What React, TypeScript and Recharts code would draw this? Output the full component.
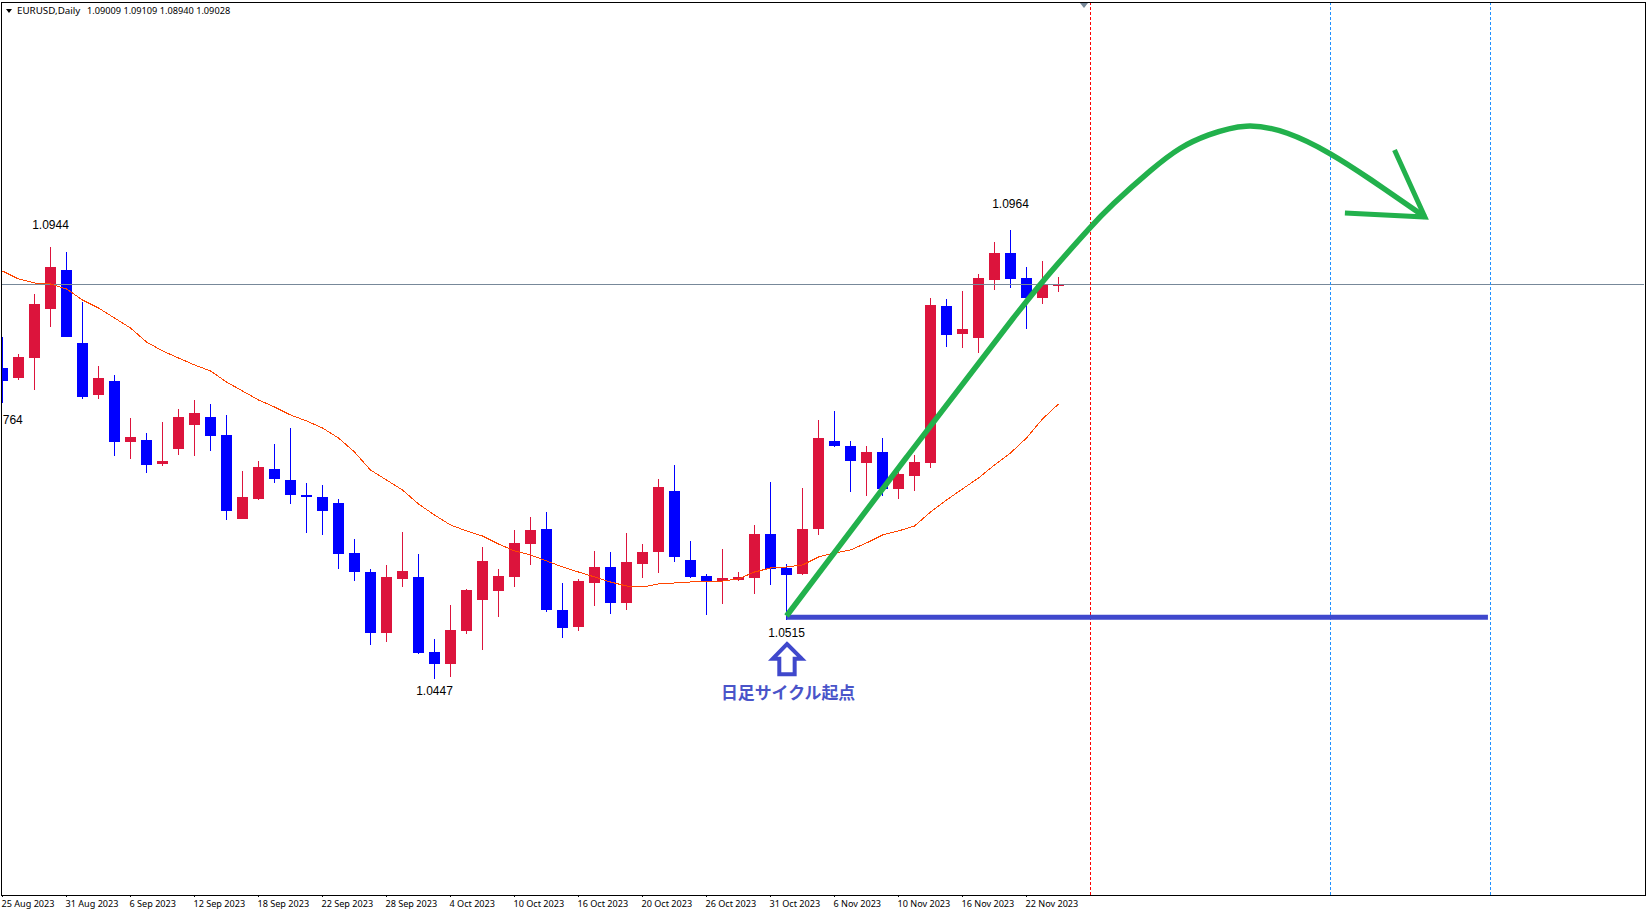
import React from 'react';
import { ComposedChart, Bar, Line, XAxis, YAxis, ReferenceLine, ReferenceDot } from 'recharts';

// EURUSD daily, one entry per candle
const opens = [
  1.08053, 1.07938, 1.08168, 1.08732, 1.09180, 1.08341, 1.07743, 1.07904, 1.07202, 1.07225,
  1.06949, 1.07122, 1.07398, 1.07490, 1.07283, 1.06317, 1.06547, 1.06892, 1.06765, 1.06593,
  1.06570, 1.06501, 1.05926, 1.05707, 1.05005, 1.05627, 1.05650, 1.04787, 1.04649, 1.05029,
  1.05385, 1.05489, 1.05650, 1.06029, 1.06202, 1.05270, 1.05075, 1.05581, 1.05765, 1.05351,
  1.05799, 1.05937, 1.06639, 1.05845, 1.05661, 1.05603, 1.05615, 1.05638, 1.06144, 1.05753,
  1.05684, 1.06202, 1.07214, 1.07156, 1.06961, 1.07087, 1.06662, 1.06811, 1.06961, 1.08766,
  1.08444, 1.08398, 1.09065, 1.09376, 1.09088, 1.08858, 1.09000,
];
const highs = [
  1.08410, 1.08214, 1.08904, 1.09445, 1.09387, 1.08812, 1.08076, 1.07973, 1.07478, 1.07306,
  1.07432, 1.07581, 1.07685, 1.07639, 1.07513, 1.06869, 1.06984, 1.07179, 1.07363, 1.06731,
  1.06708, 1.06547, 1.06087, 1.05742, 1.05788, 1.06167, 1.05914, 1.04937, 1.05327, 1.05512,
  1.05995, 1.05742, 1.06190, 1.06340, 1.06397, 1.05581, 1.05627, 1.05949, 1.05937, 1.06156,
  1.06029, 1.06777, 1.06938, 1.06064, 1.05684, 1.05972, 1.05707, 1.06248, 1.06742, 1.05799,
  1.06673, 1.07455, 1.07559, 1.07214, 1.07156, 1.07248, 1.06880, 1.07053, 1.08858, 1.08847,
  1.08939, 1.09134, 1.09502, 1.09640, 1.09215, 1.09284, 1.09100,
];
const lows = [
  1.07651, 1.07915, 1.07800, 1.08525, 1.08410, 1.07697, 1.07697, 1.07041, 1.07007, 1.06846,
  1.06927, 1.07053, 1.07041, 1.07099, 1.06305, 1.06317, 1.06535, 1.06731, 1.06489, 1.06156,
  1.06133, 1.05742, 1.05603, 1.04868, 1.04902, 1.05535, 1.04764, 1.04477, 1.04500, 1.04994,
  1.04810, 1.05190, 1.05535, 1.05788, 1.05247, 1.04948, 1.05029, 1.05316, 1.05224, 1.05270,
  1.05638, 1.05696, 1.05822, 1.05638, 1.05213, 1.05339, 1.05603, 1.05454, 1.05557, 1.05155,
  1.05673, 1.06133, 1.07145, 1.06627, 1.06581, 1.06581, 1.06547, 1.06639, 1.06903, 1.08295,
  1.08283, 1.08226, 1.08950, 1.08973, 1.08501, 1.08789, 1.08927,
];
const closes = [
  1.07904, 1.08180, 1.08789, 1.09215, 1.08410, 1.07720, 1.07938, 1.07202, 1.07260, 1.06938,
  1.06984, 1.07490, 1.07535, 1.07271, 1.06409, 1.06570, 1.06915, 1.06777, 1.06593, 1.06570,
  1.06409, 1.05914, 1.05707, 1.05005, 1.05650, 1.05719, 1.04776, 1.04649, 1.05040, 1.05500,
  1.05834, 1.05661, 1.06041, 1.06190, 1.05270, 1.05063, 1.05603, 1.05765, 1.05351, 1.05822,
  1.05937, 1.06685, 1.05880, 1.05650, 1.05603, 1.05638, 1.05650, 1.06144, 1.05742, 1.05673,
  1.06202, 1.07248, 1.07156, 1.06984, 1.07087, 1.06662, 1.06834, 1.06972, 1.08778, 1.08433,
  1.08501, 1.09088, 1.09376, 1.09077, 1.08858, 1.09007, 1.09019,
];
const ma = [
  1.09169, 1.09077, 1.09031, 1.09019, 1.08962, 1.08835, 1.08743, 1.08628, 1.08513, 1.08352,
  1.08249, 1.08168, 1.08088, 1.08019, 1.07892, 1.07789, 1.07685, 1.07605, 1.07513, 1.07444,
  1.07363, 1.07248, 1.07087, 1.06880, 1.06765, 1.06650, 1.06489, 1.06363, 1.06248, 1.06179,
  1.06121, 1.06029, 1.05949, 1.05903, 1.05834, 1.05765, 1.05707, 1.05650, 1.05592, 1.05546,
  1.05535, 1.05569, 1.05581, 1.05592, 1.05603, 1.05603, 1.05627, 1.05707, 1.05753, 1.05765,
  1.05788, 1.05880, 1.05926, 1.05960, 1.06041, 1.06133, 1.06179, 1.06236, 1.06397, 1.06535,
  1.06662, 1.06788, 1.06938, 1.07076, 1.07248, 1.07467, 1.07639,
];

const dateLabels = [
  '25 Aug 2023', '31 Aug 2023', '6 Sep 2023', '12 Sep 2023', '18 Sep 2023', '22 Sep 2023',
  '28 Sep 2023', '4 Oct 2023', '10 Oct 2023', '16 Oct 2023', '20 Oct 2023', '26 Oct 2023',
  '31 Oct 2023', '6 Nov 2023', '10 Nov 2023', '16 Nov 2023', '22 Nov 2023',
];
const dateTicks = [0, 4, 8, 12, 16, 20, 24, 28, 32, 36, 40, 44, 48, 52, 56, 60, 64];

const bidPrice = 1.09019;
const periodSeps = [
  { i: 68, color: '#FF0000' },
  { i: 83, color: '#1E90FF' },
  { i: 93, color: '#1E90FF' },
];
const extremes = [
  { i: 3, p: 1.09697, text: '1.0944' },
  { i: 0.64, p: 1.07455, text: '764' },
  { i: 27, p: 1.04338, text: '1.0447' },
  { i: 49, p: 1.05002, text: '1.0515' },
  { i: 63, p: 1.09935, text: '1.0964' },
];

// hand drawn markup on the chart
const forecastCurve = [
  { i: 49, p: 1.05201 },
  { i: 56.5, p: 1.0703 },
  { i: 64.1, p: 1.08858 },
  { i: 65.89, p: 1.09238 },
  { i: 68, p: 1.09675 },
  { i: 69.2, p: 1.09908 },
  { i: 71.9, p: 1.10353 },
  { i: 73.6, p: 1.10594 },
  { i: 75.26, p: 1.10733 },
  { i: 77.7, p: 1.10873 },
  { i: 80.29, p: 1.10779 },
  { i: 83, p: 1.10526 },
  { i: 85.3, p: 1.1025 },
  { i: 88.9, p: 1.0979 },
];
const forecastHead = [
  { i: 87, p: 1.1056 },
  { i: 88.9, p: 1.0979 },
  { i: 83.9, p: 1.09836 },
];
const cycleBase = [
  { i: 49, p: 1.05186 },
  { i: 92.84, p: 1.05186 },
];
const startArrow = [
  { i: 49.03, p: 1.04879 },
  { i: 49.95, p: 1.0471 },
  { i: 49.51, p: 1.0471 },
  { i: 49.51, p: 1.04531 },
  { i: 48.55, p: 1.04531 },
  { i: 48.55, p: 1.0471 },
  { i: 48.14, p: 1.0471 },
  { i: 49.03, p: 1.04879 },
  { i: 49.95, p: 1.0471 },
];
const startNote = { i: 49.1, p: 1.04331, text: '日足サイクル起点' };

const rows = opens.map((o, i) => ({
  i, o, h: highs[i], l: lows[i], c: closes[i], ma: ma[i], range: [lows[i], highs[i]],
}));

const UP = '#DC143C';
const DOWN = '#0000FF';
const MARKUP_BLUE = '#3F48CC';
const MARKUP_GREEN = '#22B14C';
const SMALL_FONT = '"Noto Sans", sans-serif';
const BODY_WIDTH = 11;

function Candle(props: any) {
  const { x, y, width, height, payload } = props;
  const { o, h, l, c } = payload;
  const toY = (p: number) => y + ((h - p) / (h - l)) * height;
  const color = c >= o ? UP : DOWN;
  const top = toY(Math.max(o, c));
  const bottom = toY(Math.min(o, c));
  // width from the bar is useless here, markup lines shrink the band on the number axis
  const mid = x + width / 2;
  return (
    <g shapeRendering="crispEdges">
      <rect x={mid - 0.5} y={y} width={1} height={height} fill={color} />
      <rect x={mid - BODY_WIDTH / 2} y={top} width={BODY_WIDTH} height={Math.max(bottom - top, 1)} fill={color} />
    </g>
  );
}

function DateTick({ x, y, payload }: any) {
  const label = dateLabels[dateTicks.indexOf(payload.value)];
  return (
    <text x={x - 1} y={y + 8} fontFamily={SMALL_FONT} fontSize={9.1} fill="#000">
      {label}
    </text>
  );
}

const priceLabel = (text: string) => ({ cx, cy }: any) => (
  <text x={cx} y={cy} textAnchor="middle" dominantBaseline="central" fontFamily='"Liberation Sans", Arial' fontSize={12} fill="#000">
    {text}
  </text>
);

export default function App() {
  return (
    <div style={{ position: 'absolute', left: 0, top: 0, width: 1646, height: 912, background: '#fff', overflow: 'hidden' }}>
      <ComposedChart width={1646} height={912} data={rows} margin={{ top: 2, right: 2, bottom: 0, left: 2 }}>
        <XAxis
          dataKey="i"
          type="number"
          domain={[-0.03125, 102.594]}
          allowDataOverflow
          ticks={dateTicks}
          tick={DateTick}
          tickLine={{ stroke: '#000' }}
          tickSize={2}
          axisLine={false}
          height={17}
          interval={0}
        />
        <YAxis hide domain={[1.019925, 1.12262]} allowDataOverflow />
        <ReferenceLine y={bidPrice} stroke="#778899" strokeWidth={1} shapeRendering="crispEdges" />
        <Bar dataKey="range" barSize={11} shape={Candle} isAnimationActive={false} />
        <Line dataKey="ma" stroke="#FF4500" strokeWidth={1} dot={false} activeDot={false} type="linear" shapeRendering="crispEdges" isAnimationActive={false} />
        {periodSeps.map(s => (
          <ReferenceLine key={s.i} x={s.i} stroke={s.color} strokeWidth={1} strokeDasharray="3 2" shapeRendering="crispEdges" />
        ))}
        {extremes.map(e => (
          <ReferenceDot key={e.text} x={e.i} y={e.p} r={0} shape={priceLabel(e.text)} />
        ))}
        <Line data={cycleBase} dataKey="p" stroke={MARKUP_BLUE} strokeWidth={5} dot={false} activeDot={false} type="linear" isAnimationActive={false} />
        <Line data={forecastCurve} dataKey="p" stroke={MARKUP_GREEN} strokeWidth={5.5} dot={false} activeDot={false} type="basis" isAnimationActive={false} />
        <Line data={forecastHead} dataKey="p" stroke={MARKUP_GREEN} strokeWidth={5} dot={false} activeDot={false} type="linear" isAnimationActive={false} />
        <Line data={startArrow} dataKey="p" stroke={MARKUP_BLUE} strokeWidth={4} strokeLinejoin="miter" dot={false} activeDot={false} type="linear" isAnimationActive={false} />
        <ReferenceDot
          x={startNote.i}
          y={startNote.p}
          r={0}
          shape={({ cx, cy }: any) => (
            <text x={cx} y={cy} textAnchor="middle" dominantBaseline="central" fontFamily='"Noto Sans CJK JP"' fontWeight={700} fontSize={16.9} fill="#4A54C9">
              {startNote.text}
            </text>
          )}
        />
      </ComposedChart>

      {/* chart frame + header, MT4 style */}
      <div style={{ position: 'absolute', left: 1, top: 2, width: 1643, height: 892, border: '1px solid #000', pointerEvents: 'none' }} />
      <div style={{ position: 'absolute', left: 6, top: 9, width: 0, height: 0, borderLeft: '3.5px solid transparent', borderRight: '3.5px solid transparent', borderTop: '4px solid #000' }} />
      <div style={{ position: 'absolute', left: 17, top: 4, fontFamily: SMALL_FONT, fontSize: 9.8, lineHeight: '14px', color: '#000', whiteSpace: 'pre' }}>
        EURUSD,Daily
      </div>
      <div style={{ position: 'absolute', left: 87, top: 4, fontFamily: SMALL_FONT, fontSize: 9.2, lineHeight: '14px', color: '#000', whiteSpace: 'pre' }}>
        1.09009 1.09109 1.08940 1.09028
      </div>
      <div style={{ position: 'absolute', left: 1080, top: 3, width: 0, height: 0, borderLeft: '4.5px solid transparent', borderRight: '4.5px solid transparent', borderTop: '5px solid #778899' }} />
      <div style={{ position: 'absolute', left: 1645, top: 37, width: 1, height: 1, background: '#000' }} />
      <div style={{ position: 'absolute', left: 1645, top: 891, width: 1, height: 1, background: '#000' }} />
    </div>
  );
}
